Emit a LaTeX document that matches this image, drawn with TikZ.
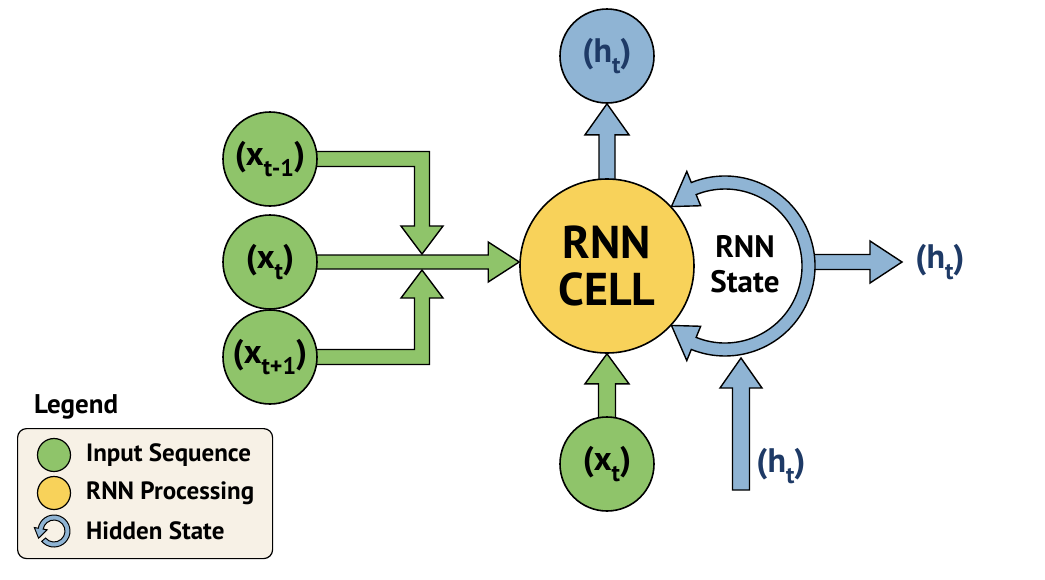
\documentclass[tikz,border=0pt]{standalone}
\usepackage{fontspec}
\setmainfont{PT Sans}
\usetikzlibrary{calc}
\definecolor{gfill}{HTML}{8FC46A}
\definecolor{yfill}{HTML}{F8D25A}
\definecolor{bfill}{HTML}{8FB4D4}
\definecolor{navy}{HTML}{1E3A66}
\definecolor{legbg}{HTML}{F7F1E6}
\pgfdeclarelayer{bgzero}
\pgfdeclarelayer{background}
\pgfsetlayers{bgzero,background,main}
\newcommand{\lab}[2]{(#1\raisebox{-0.32em}{\fontsize{24}{24}\selectfont #2})}
\newcommand{\fatarrow}[6]{%
  \coordinate (fabase) at ($(#2)!#6!(#1)$);
  \filldraw[fill=#3, draw=black, line width=1.4pt, line join=miter]
    ($(#1)!#4!90:(#2)$) -- ($(fabase)!#4!-90:(#1)$) -- ($(fabase)!#5!-90:(#1)$) -- (#2)
    -- ($(fabase)!#5!90:(#1)$) -- ($(fabase)!#4!90:(#1)$) -- ($(#1)!#4!-90:(#2)$) -- cycle;}
\begin{document}
\begin{tikzpicture}[x=1pt,y=-1pt,
  circ/.style={circle, draw=black, line width=1.6pt, minimum size=94pt, inner sep=0pt,
    font=\fontsize{34}{34}\selectfont\bfseries},
  lbl/.style={inner sep=0pt, font=\fontsize{34}{34}\selectfont\bfseries},
  arrowline/.style={draw=black, line width=1.4pt, line join=miter},
  legfont/.style={anchor=west, inner sep=0pt, font=\fontsize{25}{25}\selectfont\bfseries},
  legdot/.style={circle, draw=black, line width=1.2pt, minimum size=33pt, inner sep=0pt}]
\begin{pgfonlayer}{bgzero}
\fill[white] (0,0) rectangle (1045,579);
\end{pgfonlayer}
\useasboundingbox (0,0) rectangle (1045,579);

% input nodes
\node[circ, fill=gfill] (xa) at (270,159) {\lab{x}{t-1}};
\node[circ, fill=gfill] (xb) at (270,262) {\lab{x}{t}};
\node[circ, fill=gfill] (xc) at (270,357) {\lab{x}{t+1}};
% cell
\node[circ, fill=yfill, minimum size=174pt, align=center,
  font=\fontsize{46}{47}\selectfont\bfseries] (cell) at (607,266) {RNN\\CELL};
\node[circ, fill=bfill, text=navy] (ht) at (607,56) {\lab{h}{t}};
\node[circ, fill=gfill] (xbot) at (607,464) {\lab{x}{t}};
\node[align=center, inner sep=0pt, font=\fontsize{31}{35}\selectfont\bfseries] (state) at (745,264) {RNN\\State};
\node[lbl, text=navy] (hr) at (940,262) {\lab{h}{t}};
\node[lbl, text=navy] (hb) at (781,466) {\lab{h}{t}};

\coordinate (junc) at (422,262);
\coordinate (tipA) at (xb.center -| cell.west);
\coordinate (rs) at (808,262);
\coordinate (rt) at (902,262);
\coordinate (bs) at (741,490);
\coordinate (bt) at (741,358);

\begin{pgfonlayer}{background}
\filldraw[arrowline, fill=gfill] ($(xa.center)+(0,-7.5)$) -| ($(junc)+(7.5,-36)$) -- ++(13.5,0)
  -- ($(junc)+(0,-8)$) -- ++(-21,-28) -- ++(13.5,0) |- ($(xa.center)+(0,7.5)$) -- cycle;
\filldraw[arrowline, fill=gfill] ($(xc.center)+(0,7.5)$) -| ($(junc)+(7.5,36)$) -- ++(13.5,0)
  -- ($(junc)+(0,8)$) -- ++(-21,28) -- ++(13.5,0) |- ($(xc.center)+(0,-7.5)$) -- cycle;
\fatarrow{xb.center}{tipA}{gfill}{7pt}{20pt}{31pt}
\fatarrow{cell.center}{ht.south}{bfill}{8pt}{22pt}{31pt}
\fatarrow{xbot.center}{cell.south}{gfill}{8.5pt}{22pt}{30pt}
\fatarrow{rs}{rt}{bfill}{7.5pt}{21pt}{32pt}
\end{pgfonlayer}
\fatarrow{bs}{bt}{bfill}{8.5pt}{21pt}{30pt}

% recurrent ring
\begin{scope}[shift={(725,266)}, yscale=-1]
\filldraw[arrowline, fill=bfill] (112:90) arc[start angle=112, end angle=-112, radius=90]
  -- (-112:102) -- (-132:80) -- (-112:65) -- (-112:77)
  arc[start angle=-112, end angle=112, radius=77]
  -- (112:65) -- (132:80) -- (112:102) -- cycle;
\end{scope}

% legend
\node[anchor=west, inner sep=0pt, font=\fontsize{27}{27}\selectfont\bfseries] (legt) at (34,407) {Legend};
\node[draw=black, line width=1.2pt, fill=legbg, rounded corners=9pt, minimum width=255pt,
  minimum height=130pt, anchor=north west] (legbox) at (17,428) {};
\node[legdot, fill=gfill] (lg) at (54,455) {};
\node[legdot, fill=yfill] (ly) at (54,493) {};
\begin{scope}[shift={(54,531)}, yscale=-1]
\filldraw[draw=black, line width=1pt, fill=bfill, line join=miter]
  (170:16) arc[start angle=170, end angle=-140, radius=16] -- (-140:11)
  arc[start angle=-140, end angle=170, radius=11] -- (170:7) -- (205:17) -- (170:20) -- cycle;
\end{scope}
\node[legfont] (l1) at (86,455) {Input Sequence};
\node[legfont] (l2) at (86,493) {RNN Processing};
\node[legfont] (l3) at (86,531) {Hidden State};
\end{tikzpicture}
\end{document}
